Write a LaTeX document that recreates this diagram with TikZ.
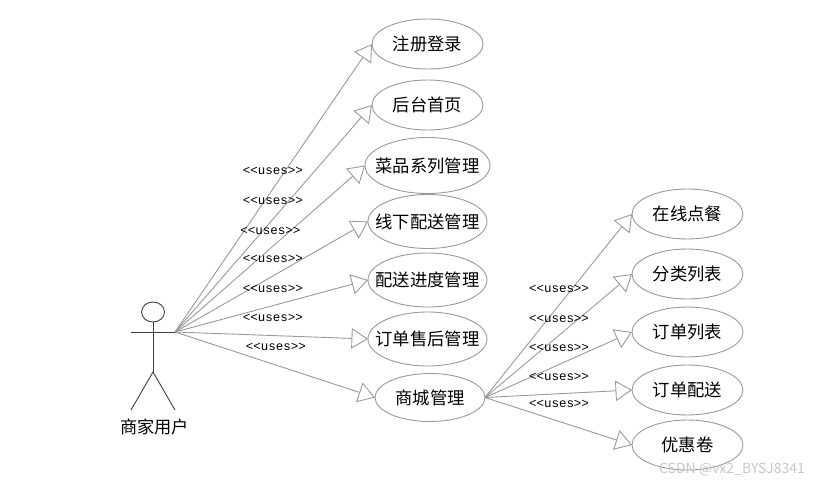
\documentclass[tikz,border=0pt]{standalone}
\usepackage{fontspec}
\usetikzlibrary{arrows.meta,shapes.geometric}
\setmainfont{Noto Sans CJK SC}
\newfontfamily\monof{Liberation Mono}
\definecolor{edge}{HTML}{999999}
\tikzset{
  usecase/.style={draw=edge,ellipse,line width=0.9pt,inner sep=0pt,outer sep=0pt,font=\fontsize{17.3}{19}\selectfont,text=black},
  link/.style={draw=edge,line width=0.9pt,-{Triangle[open,length=16.5pt,width=20.5pt,line width=0.9pt]}},
  uselabel/.style={font=\monof\fontsize{12.5}{14}\selectfont,text=black,inner sep=0pt},
  actorline/.style={draw=black!75,line width=0.9pt},
  mark text/.style={text=black!22,font=\fontsize{14}{16}\selectfont,inner sep=0pt}
}
\newcommand{\uc}[6]{\node[usecase,minimum width=#4pt,minimum height=#5pt] (#1) at (#2,#3) {\makebox[0pt][c]{#6}};}
\begin{document}
\begin{tikzpicture}[x=1pt,y=-1pt]
\useasboundingbox (0,0) rectangle (828,485);
\uc{a}{427.5}{44}{111}{50}{注册登录}
\uc{b}{427.5}{105}{111}{50}{后台首页}
\uc{c}{427.5}{165.5}{125}{56}{菜品系列管理}
\uc{d}{427.5}{221.5}{119}{54}{线下配送管理}
\uc{e}{427.5}{280}{119}{54}{配送进度管理}
\uc{f}{427.5}{339}{119}{54}{订单售后管理}
\uc{g}{430}{397.5}{110}{48}{商城管理}
\uc{h}{687.5}{214}{111}{50}{在线点餐}
\uc{i}{687.5}{274}{111}{50}{分类列表}
\uc{j}{687.5}{332}{111}{50}{订单列表}
\uc{k}{687.5}{390}{111}{50}{订单配送}
\uc{l}{687.5}{445}{111}{50}{优惠卷}
% actor
\node[draw=black!75,line width=0.9pt,ellipse,minimum width=23pt,minimum height=20pt,inner sep=0pt] (head) at (153,312) {};
\coordinate (hipc) at (153,372);
\coordinate (handl) at (131,332);
\coordinate (handr) at (175,332);
\coordinate (footl) at (131,410);
\coordinate (footr) at (175,410);
\draw[actorline] (head.south) -- (hipc);
\draw[actorline] (handl) -- (handr);
\draw[actorline] (footl) -- (hipc) -- (footr);
\node[font=\fontsize{17.2}{19}\selectfont,inner sep=0pt] (actorname) at (154.5,427) {商家用户};
% links
\foreach \t in {a,b,c,d,e,f,g} \draw[link] (handr) -- (\t.west);
\foreach \t in {h,i,j,k,l} \draw[link] (g.east) -- (\t.west);
% labels
\node[uselabel] (u1) at (273,171) {<{}<uses>{}>};
\node[uselabel] (u2) at (273,200.5) {<{}<uses>{}>};
\node[uselabel] (u3) at (270.5,231) {<{}<uses>{}>};
\node[uselabel] (u4) at (273,259) {<{}<uses>{}>};
\node[uselabel] (u5) at (273,289) {<{}<uses>{}>};
\node[uselabel] (u6) at (273,318) {<{}<uses>{}>};
\node[uselabel] (u7) at (276,347) {<{}<uses>{}>};
\node[uselabel] (v1) at (559,289) {<{}<uses>{}>};
\node[uselabel] (v2) at (559,319) {<{}<uses>{}>};
\node[uselabel] (v3) at (559,348) {<{}<uses>{}>};
\node[uselabel] (v4) at (559,377) {<{}<uses>{}>};
\node[uselabel] (v5) at (559,404) {<{}<uses>{}>};
\node[mark text] (wm) at (732,469) {CSDN @vx2\_BYSJ8341};
\end{tikzpicture}
\end{document}
